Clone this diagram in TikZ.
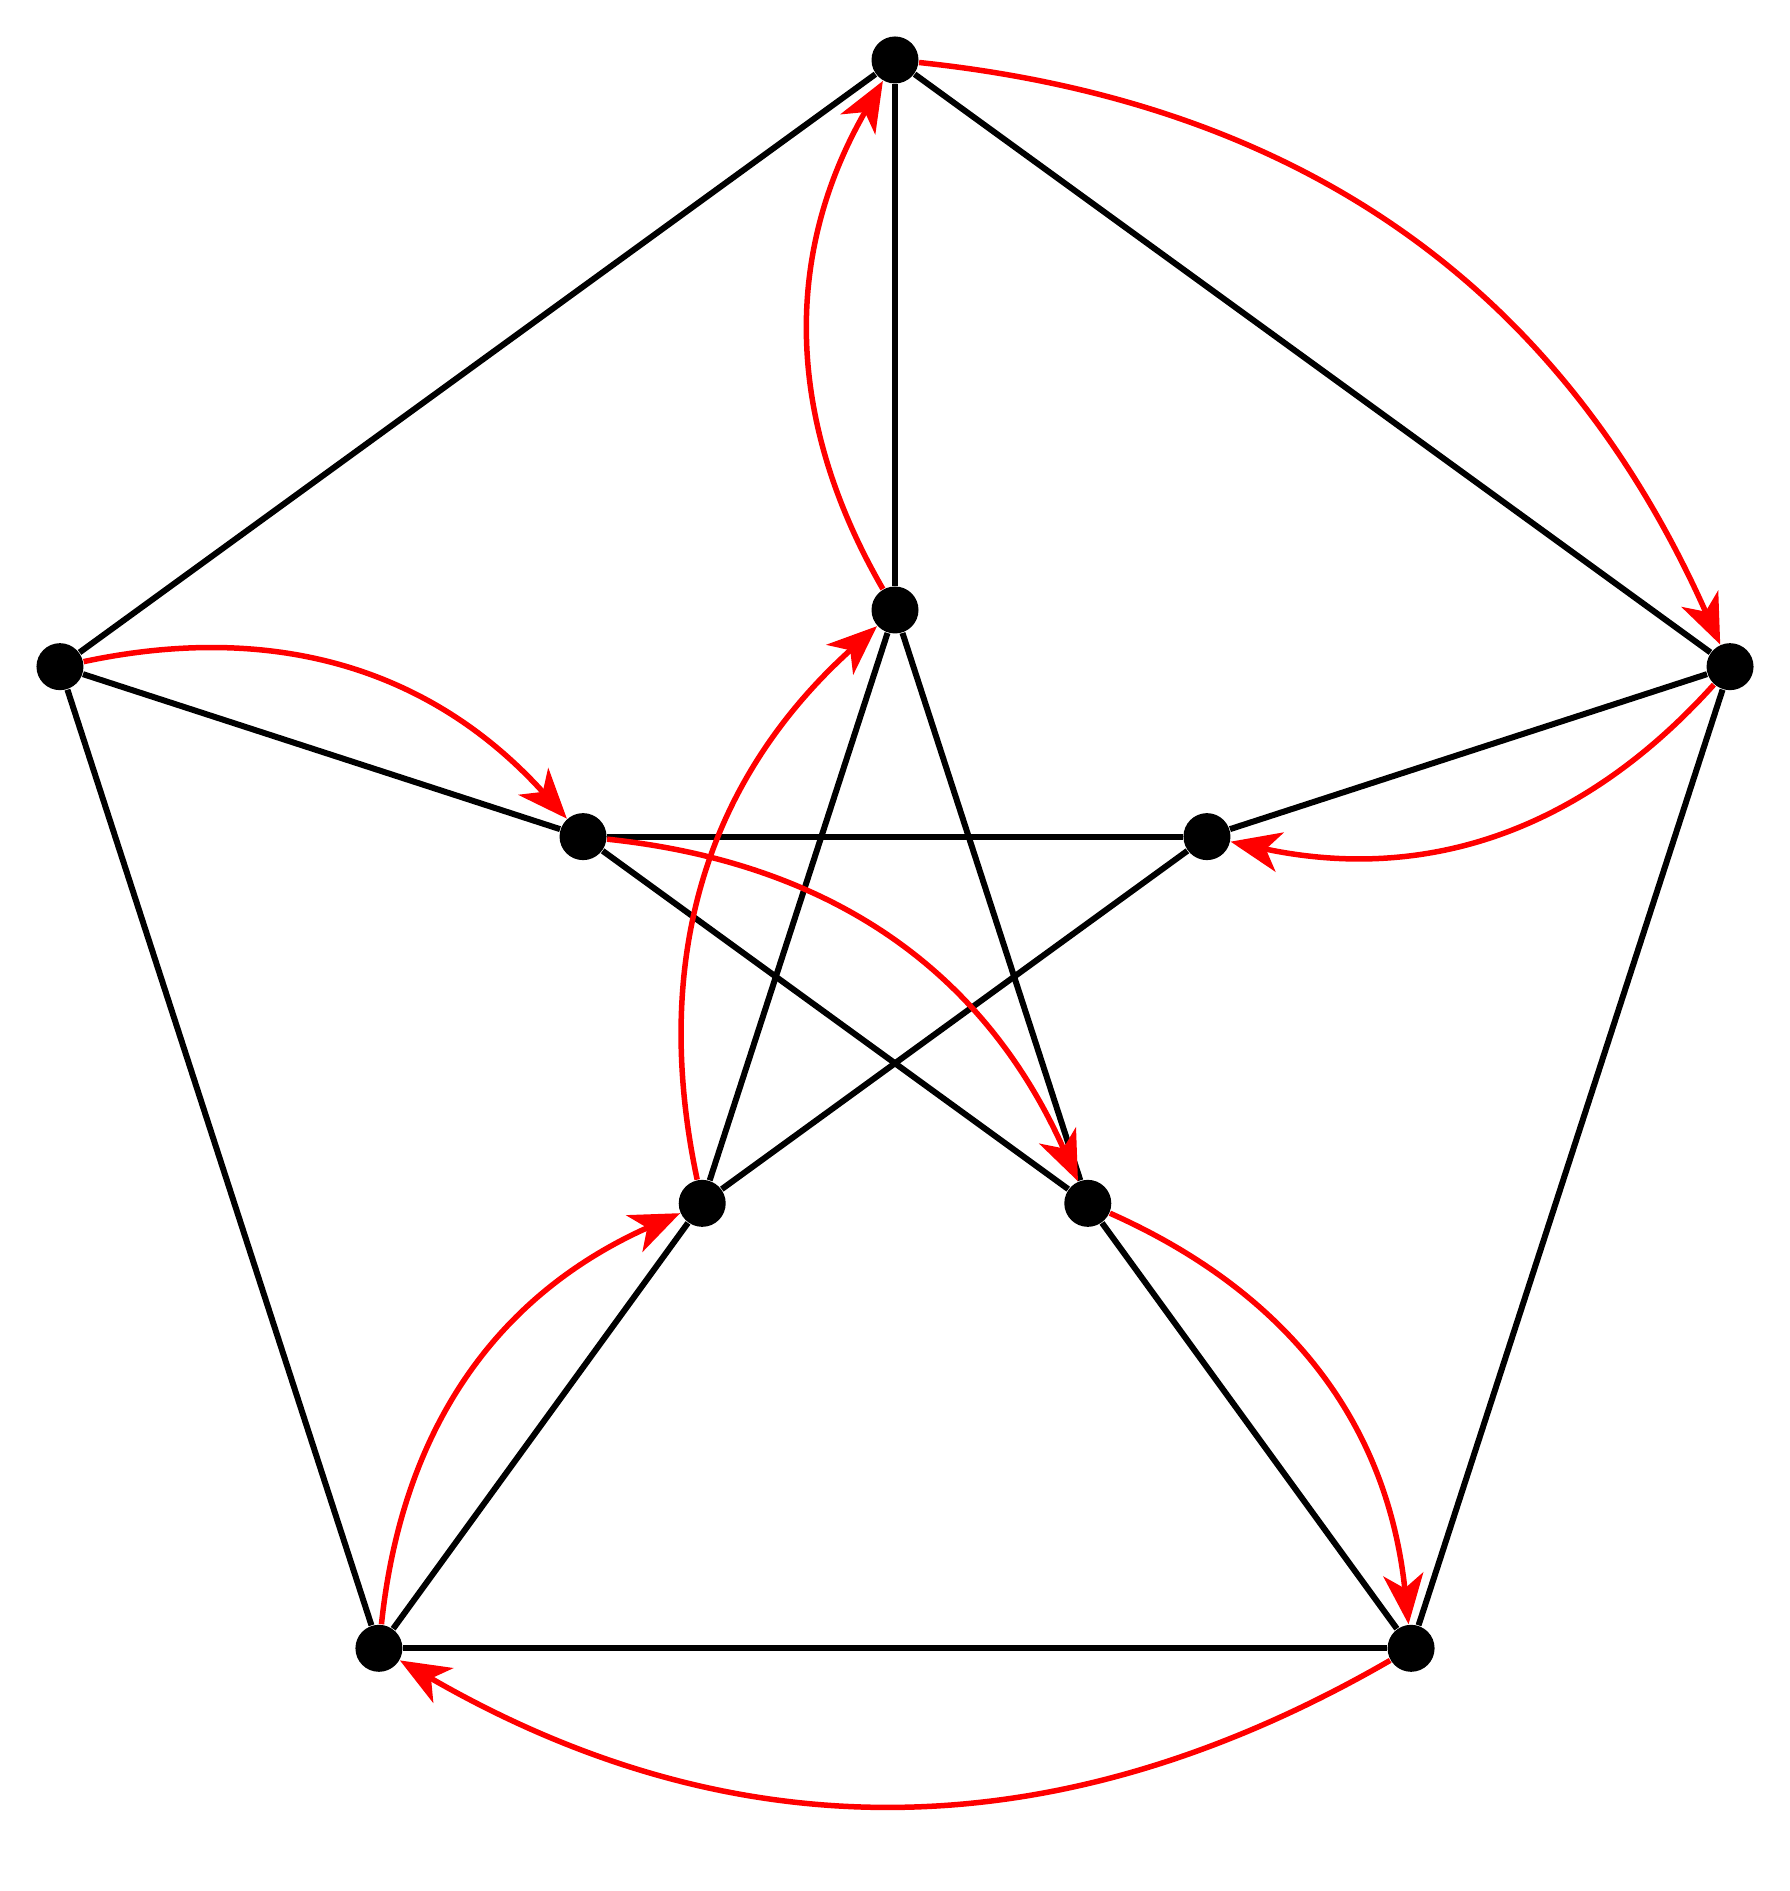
\documentclass[tikz,border=0pt]{standalone}
\usetikzlibrary{arrows.meta,calc}
\begin{document}
\begin{tikzpicture}[
  vtx/.style={circle,fill=black,inner sep=0pt,minimum size=0.47cm},
  edge/.style={black,line width=0.06cm},
  harc/.style={red,line width=0.055cm,-{Stealth[length=0.5cm,width=0.4cm,inset=0.14cm]},bend left=30}]
\useasboundingbox (0,0) rectangle (17.9,18.91);
\coordinate (c) at (8.95,9.53);
\foreach \i/\a in {1/90,2/18,3/306,4/234,5/162} {
  \node[vtx] (o\i) at ($(c)+(\a:8.78)$) {};
  \node[vtx] (n\i) at ($(c)+(\a:3.28)$) {};
}
% outer pentagon
\draw[edge] (o1) -- (o2);
\draw[edge] (o2) -- (o3);
\draw[edge] (o3) -- (o4);
\draw[edge] (o4) -- (o5);
\draw[edge] (o5) -- (o1);
% spokes
\foreach \i in {1,...,5} { \draw[edge] (o\i) -- (n\i); }
% inner pentagram
\draw[edge] (n1) -- (n3);
\draw[edge] (n3) -- (n5);
\draw[edge] (n5) -- (n2);
\draw[edge] (n2) -- (n4);
\draw[edge] (n4) -- (n1);
% red path
\draw[harc] (o5) to (n5);
\draw[harc] (n5) to (n3);
\draw[harc] (n3) to (o3);
\draw[harc] (o3) to (o4);
\draw[harc] (o4) to (n4);
\draw[harc] (n4) to (n1);
\draw[harc] (n1) to (o1);
\draw[harc] (o1) to (o2);
\draw[harc] (o2) to (n2);
\end{tikzpicture}
\end{document}
